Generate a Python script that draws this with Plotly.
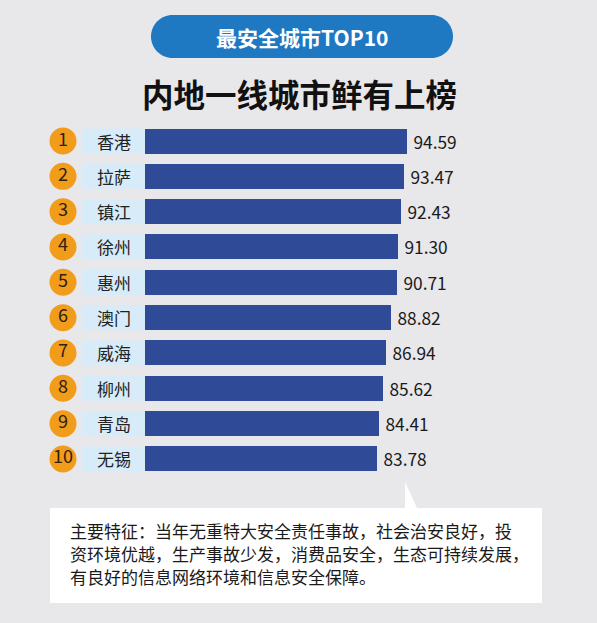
import plotly.graph_objects as go

# ---- data ----
ranks = [1, 2, 3, 4, 5, 6, 7, 8, 9, 10]
cities = ["香港", "拉萨", "镇江", "徐州", "惠州", "澳门", "威海", "柳州", "青岛", "无锡"]
scores = [94.59, 93.47, 92.43, 91.30, 90.71, 88.82, 86.94, 85.62, 84.41, 83.78]
header = "最安全城市TOP10"
title = "内地一线城市鲜有上榜"
note_lines = [
    "主要特征：当年无重特大安全责任事故，社会治安良好，投",
    "资环境优越，生产事故少发，消费品安全，生态可持续发展，",
    "有良好的信息网络环境和信息安全保障。",
]

# ---- layout constants (pixels) ----
W, H = 597, 623
X0 = 145          # pixel position of value 0
PXU = 2.775       # pixels per score unit
Y1 = 141          # pixel center of first row
DY = 35.33        # row spacing
BAR_PX = 25

FONT = "Noto Sans CJK SC"
BG = "#e8e7ea"
BAR = "#2f4a97"
STRIP = "#d7ebf8"
ORANGE = "#f29c1c"


def px2x(p):
    return (p - X0) / PXU


def px(xp, yp):
    return xp / W, 1 - yp / H


def P(a, b):
    xx, yy = px(a, b)
    return f"{xx:.5f},{yy:.5f}"


bw = BAR_PX / DY

fig = go.Figure()

fig.add_trace(go.Bar(
    x=scores, y=ranks, orientation="h", width=bw,
    marker=dict(color=BAR, line=dict(width=0)),
    text=[f"\u2009{v:.2f}" for v in scores], textposition="outside",
    textfont=dict(family=FONT, size=18, color="#1a1a1a"),
    cliponaxis=False, hoverinfo="skip",
))

# rank circles
fig.add_trace(go.Scatter(
    x=[px2x(63)] * len(ranks), y=ranks, mode="markers+text",
    marker=dict(size=27, color=ORANGE, line=dict(width=0)),
    text=[str(r) for r in ranks], textposition="middle center",
    textfont=dict(family=FONT, size=18, color="#2e2210"),
    cliponaxis=False, hoverinfo="skip",
))

shapes = []
annotations = []

# light blue strips behind city names + city name labels
for r, c in zip(ranks, cities):
    shapes.append(dict(type="rect", xref="x", yref="y", x0=px2x(82), x1=0,
                       y0=r - bw / 2, y1=r + bw / 2, fillcolor=STRIP,
                       line=dict(width=0), layer="below"))
    annotations.append(dict(xref="x", yref="y", x=px2x(114), y=r, text=c,
                            showarrow=False, xanchor="center", yanchor="middle",
                            font=dict(family=FONT, size=17, color="#222222")))


def rounded_path(x0, y0, x1, y1, rad):
    k = 0.5523 * rad
    s = f"M{P(x0 + rad, y0)} L{P(x1 - rad, y0)} "
    s += f"C{P(x1 - rad + k, y0)} {P(x1, y0 + rad - k)} {P(x1, y0 + rad)} "
    s += f"L{P(x1, y1 - rad)} "
    s += f"C{P(x1, y1 - rad + k)} {P(x1 - rad + k, y1)} {P(x1 - rad, y1)} "
    s += f"L{P(x0 + rad, y1)} "
    s += f"C{P(x0 + rad - k, y1)} {P(x0, y1 - rad + k)} {P(x0, y1 - rad)} "
    s += f"L{P(x0, y0 + rad)} "
    s += f"C{P(x0, y0 + rad - k)} {P(x0 + rad - k, y0)} {P(x0 + rad, y0)} Z"
    return s


# header pill
shapes.append(dict(type="path", xref="paper", yref="paper",
                   path=rounded_path(151, 15, 453, 58, 21.5),
                   fillcolor="#1e78c2", line=dict(width=0)))
hx, hy = px(302, 37)
annotations.append(dict(xref="paper", yref="paper", x=hx, y=hy, text=f"<b>{header}</b>",
                        showarrow=False, xanchor="center", yanchor="middle",
                        font=dict(family=FONT, size=21, color="white")))
tx, ty = px(299, 93)
annotations.append(dict(xref="paper", yref="paper", x=tx, y=ty, text=f"<b>{title}</b>",
                        showarrow=False, xanchor="center", yanchor="middle",
                        font=dict(family=FONT, size=31.5, color="#111111")))

# note box with pointer
box = (f"M{P(50, 508)} L{P(405, 508)} L{P(405, 482)} L{P(417, 508)} "
       f"L{P(542, 508)} L{P(542, 603)} L{P(50, 603)} Z")
shapes.append(dict(type="path", xref="paper", yref="paper", path=box,
                   fillcolor="white", line=dict(width=0)))
for line, yp in zip(note_lines, [530, 553, 576]):
    nx, ny = px(69, yp)
    annotations.append(dict(xref="paper", yref="paper", x=nx, y=ny,
                            text=line, showarrow=False, borderpad=0,
                            xanchor="left", yanchor="middle", align="left",
                            font=dict(family=FONT, size=17, color="#1a1a1a")))

fig.update_layout(
    width=W, height=H, margin=dict(l=0, r=0, t=0, b=0),
    paper_bgcolor=BG, plot_bgcolor=BG, showlegend=False,
    xaxis=dict(range=[px2x(0), px2x(W)], visible=False, fixedrange=True),
    yaxis=dict(range=[1 + (H - Y1) / DY, 1 - Y1 / DY], visible=False, fixedrange=True),
    shapes=shapes, annotations=annotations, bargap=0,
)

fig.write_html(
    "out.html",
    config={"displayModeBar": False},
    post_script=("document.body.style.margin='0';"
                 "document.body.style.overflow='hidden';"
                 "document.body.style.background='" + BG + "';"),
)
